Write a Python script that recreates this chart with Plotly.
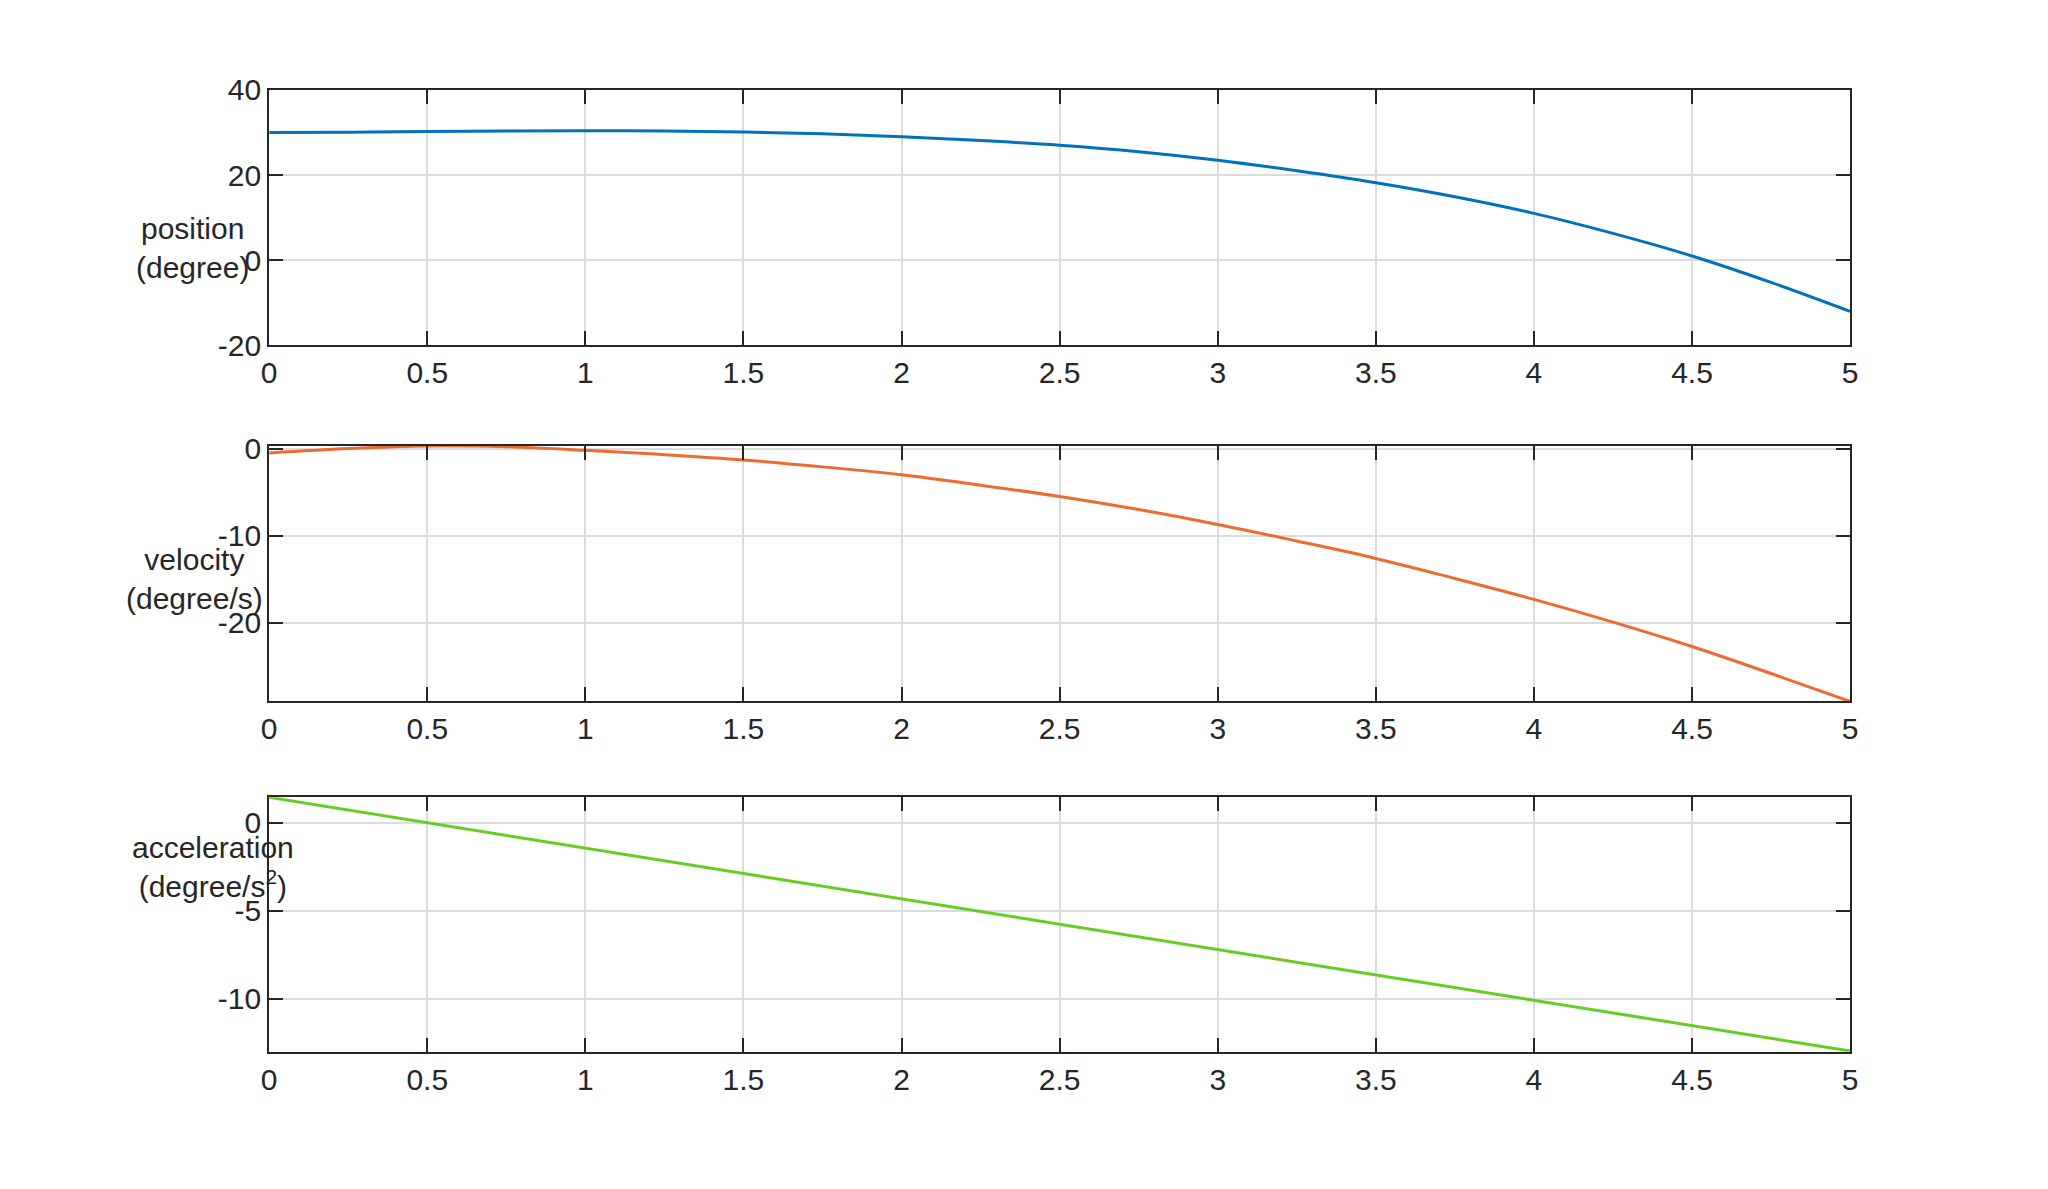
import plotly.graph_objects as go

t = [0, 0.25, 0.5, 0.75, 1, 1.25, 1.5, 1.75, 2, 2.25, 2.5, 2.75, 3, 3.25, 3.5, 3.75, 4, 4.25, 4.5, 4.75, 5]
position = [30.0, 30.05, 30.2, 30.35, 30.4, 30.35, 30.1, 29.7, 29.0, 28.1, 27.0, 25.5, 23.5, 21.0, 18.2, 14.9, 11.0, 6.3, 1.0, -5.2, -12.0]
velocity = [-0.5, 0.0, 0.3, 0.2, -0.2, -0.7, -1.3, -2.1, -3.0, -4.2, -5.5, -7.0, -8.7, -10.6, -12.6, -14.9, -17.3, -19.9, -22.7, -25.8, -29.0]
accel_t = [0, 5]
acceleration = [1.44, -12.96]
x_ticks = [0, 0.5, 1, 1.5, 2, 2.5, 3, 3.5, 4, 4.5, 5]
x_labels = ["0", "0.5", "1", "1.5", "2", "2.5", "3", "3.5", "4", "4.5", "5"]

font = dict(family="Liberation Sans, Arial", size=30, color="#262626")
fig = go.Figure()
fig.add_trace(go.Scatter(x=t, y=position, mode="lines", line=dict(color="#0072BD", width=3, shape="spline"), xaxis="x", yaxis="y"))
fig.add_trace(go.Scatter(x=t, y=velocity, mode="lines", line=dict(color="#EE6A2E", width=3, shape="spline"), xaxis="x2", yaxis="y2"))
fig.add_trace(go.Scatter(x=accel_t, y=acceleration, mode="lines", line=dict(color="#66CC22", width=3), xaxis="x3", yaxis="y3"))

ax = dict(range=[0, 5], tickvals=x_ticks, ticktext=x_labels,
          domain=[0.1246, 0.9026], showline=True, linecolor="#262626", linewidth=2, mirror="ticks",
          ticks="inside", ticklen=14, tickwidth=2, tickcolor="#262626", showgrid=True, gridcolor="#DCDCDC", gridwidth=1.5,
          zeroline=False, tickfont=font)
ay = dict(showline=True, linecolor="#262626", linewidth=2, mirror="ticks", ticks="inside", ticklen=14, tickwidth=2,
          tickcolor="#262626", showgrid=True, gridcolor="#DCDCDC", gridwidth=1.5, zeroline=False, tickfont=font)

fig.update_layout(
    width=2048, height=1189, margin=dict(l=0, r=0, t=0, b=0), paper_bgcolor="white", plot_bgcolor="white", showlegend=False,
    xaxis=dict(ax, anchor="y"), xaxis2=dict(ax, anchor="y2"), xaxis3=dict(ax, anchor="y3"),
    yaxis=dict(ay, domain=[0.722, 0.943], range=[-20, 40], tickvals=[-20, 0, 20, 40], ticktext=["-20", "0", "20", "40"], anchor="x"),
    yaxis2=dict(ay, domain=[0.414, 0.635], range=[-29, 0.3], tickvals=[-20, -10, 0], ticktext=["-20", "-10", "0"], anchor="x2"),
    yaxis3=dict(ay, domain=[0.111, 0.331], range=[-13, 1.44], tickvals=[-10, -5, 0], ticktext=["-10", "-5", "0"], anchor="x3"),
    annotations=[
        dict(text="position<br>(degree)", x=0.058, y=0.839, xref="paper", yref="paper", showarrow=False, font=font),
        dict(text="velocity<br>(degree/s)", x=0.053, y=0.520, xref="paper", yref="paper", showarrow=False, font=font),
        dict(text="acceleration<br>(degree/s<sup>2</sup>)", x=0.056, y=0.238, xref="paper", yref="paper", showarrow=False, font=font),
    ],
)
fig.write_html("out.html")
